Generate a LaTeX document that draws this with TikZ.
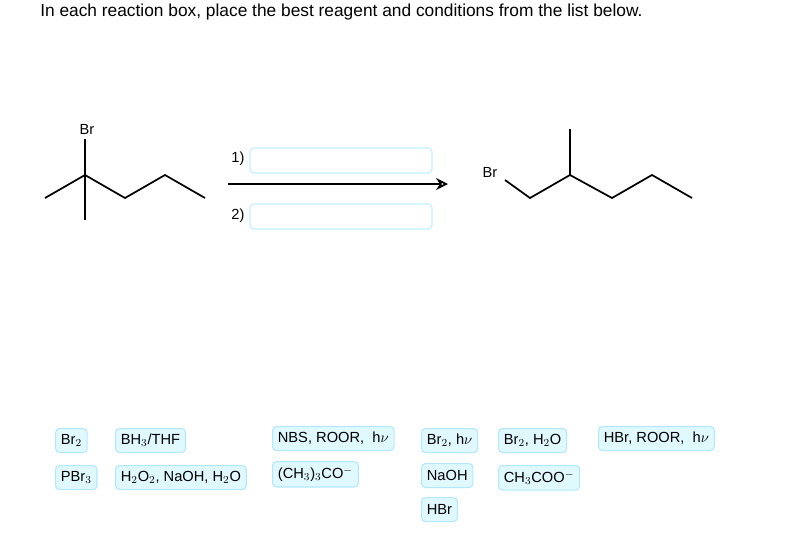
\documentclass[tikz,border=0pt]{standalone}
\usepackage{fontspec}
\setmainfont{Liberation Sans}
\usetikzlibrary{arrows.meta}
\begin{document}
\begin{tikzpicture}[x=0.75pt,y=-0.75pt,
 bond/.style={line width=1.3pt,black},
 chip/.style={draw=blue!30!cyan!30,fill=blue!18!cyan!12,rounded corners=3pt,line width=0.8pt,font=\fontsize{11}{13}\selectfont,anchor=north west,minimum height=18pt,inner sep=4pt},
 ansbox/.style={draw=blue!25!cyan!25,rounded corners=3pt,line width=0.8pt},
 lbl/.style={font=\fontsize{11}{13}\selectfont,inner sep=1pt}]
\useasboundingbox (0,0) rectangle (803,544);
\node[anchor=west,font=\fontsize{13}{15}\selectfont,inner sep=0] (title) at (40,12) {In each reaction box, place the best reagent and conditions from the list below.};
% left molecule
\node[lbl] (brL) at (87,129) {Br};
\coordinate (q) at (85,175);
\coordinate (qu) at (85,139);
\coordinate (qd) at (85,220);
\coordinate (ql) at (45,198);
\coordinate (c1) at (125,198);
\coordinate (c2) at (165,175);
\coordinate (c3) at (205,198);
\draw[bond] (qu)--(qd);
\draw[bond] (ql)--(q)--(c1)--(c2)--(c3);
% arrow and boxes
\coordinate (a1) at (228,184); \coordinate (a2) at (448,184);
\draw[line width=1.3pt,-{Stealth[length=9pt,open,width=9pt]}] (a1)--(a2);
\draw[ansbox] (250,148) rectangle (432,173);
\draw[ansbox] (250,204) rectangle (432,229);
\node[lbl] (n1) at (238,159) {1)};
\node[lbl] (n2) at (238,216) {2)};
% right molecule
\node[lbl] (brR) at (490,172) {Br};
\coordinate (r1) at (505,180);
\coordinate (r2) at (530,198);
\coordinate (r3) at (570,175);
\coordinate (r3u) at (570,129);
\coordinate (r4) at (612,198);
\coordinate (r5) at (652,175);
\coordinate (r6) at (692,198);
\draw[bond] (r1)--(r2)--(r3)--(r4)--(r5)--(r6);
\draw[bond] (r3)--(r3u);
% chips
\node[chip] (k1) at (55,428) {Br$_2$};
\node[chip] (k2) at (115,428) {BH$_3$/THF};
\node[chip] (k3) at (272,426) {NBS, ROOR,\ \ h$\nu$};
\node[chip] (k4) at (421,428) {Br$_2$, h$\nu$};
\node[chip] (k5) at (498,428) {Br$_2$, H$_2$O};
\node[chip] (k6) at (598,426) {HBr, ROOR,\ \ h$\nu$};
\node[chip] (k7) at (55,465) {PBr$_3$};
\node[chip] (k8) at (115,465) {H$_2$O$_2$, NaOH, H$_2$O};
\node[chip] (k9) at (272,461) {(CH$_3$)$_3$CO$^-$};
\node[chip] (k10) at (421,463) {NaOH};
\node[chip] (k11) at (498,465) {CH$_3$COO$^-$};
\node[chip] (k12) at (421,497) {HBr};
\end{tikzpicture}
\end{document}
